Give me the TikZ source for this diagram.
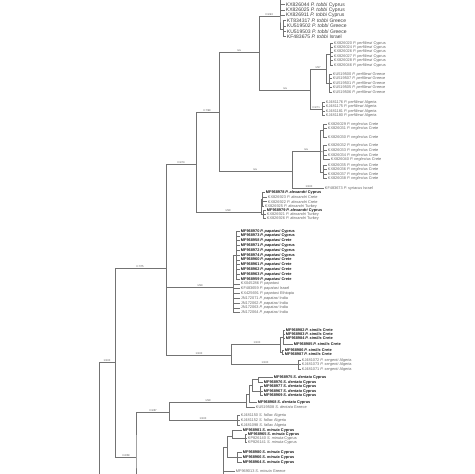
\documentclass[tikz,border=0pt]{standalone}
\usepackage{fontspec}
\setmainfont{Liberation Sans}
\begin{document}
\begin{tikzpicture}[
    x=0.03cm, y=-0.03cm,
    br/.style={draw=black!55, line width=0.4pt},
    leaf/.style={anchor=west, inner sep=0.6pt, font=\fontsize{3.3}{3.8}\selectfont, text=black!60},
    bigleaf/.style={leaf, font=\fontsize{4.3}{5}\selectfont, text=black!75},
    own/.style={leaf, font=\fontsize{3.3}{3.8}\selectfont\bfseries, text=black!90},
    bs/.style={anchor=south, inner sep=0.4pt, font=\fontsize{2.3}{2.7}\selectfont, text=black!65}
]
\useasboundingbox (0,0) rectangle (474,474);
\clip (0,0) rectangle (474,474);
\fill[white] (0,0) rectangle (474,474);

% internal nodes of the tree
\coordinate (root) at (99,362);
\coordinate (rootend) at (99,480);
\coordinate (all) at (115,362);
\coordinate (phleb) at (166,268);
\coordinate (sergent) at (136,457);
\coordinate (sergentend) at (136,480);
\coordinate (larr) at (196,164);
\coordinate (larrA) at (219,112);
\coordinate (tobper) at (259,52);
\coordinate (tob) at (280,16);
\coordinate (tobtop) at (280,-5);
\coordinate (tobGR) at (283,29);
\coordinate (perf) at (310,90);
\coordinate (perfA) at (326,69);
\coordinate (perfCY) at (330,54);
\coordinate (perfGR) at (329,83);
\coordinate (perfAL) at (322,109);
\coordinate (negsyr) at (292,171);
\coordinate (neg) at (320,151);
\coordinate (negA) at (323,130);
\coordinate (negB) at (323,152);
\coordinate (negC) at (323,172);
\coordinate (alex) at (261,212);
\coordinate (alexA) at (262,199);
\coordinate (alexB) at (263,214);
\coordinate (pap) at (233,287);
\coordinate (papA) at (236,255);
\coordinate (simser) at (231,355);
\coordinate (sim) at (280,344.5);
\coordinate (simA) at (283,337);
\coordinate (simB) at (282,352);
\coordinate (ser) at (298,364.5);
\coordinate (sd) at (169,412);
\coordinate (dent) at (246,402);
\coordinate (dentX) at (249,394);
\coordinate (dentY) at (252,385);
\coordinate (dentP) at (258,379.5);
\coordinate (dentQ) at (260,391);
\coordinate (fal) at (237,420);
\coordinate (min0) at (223,447);
\coordinate (min0end) at (223,480);
\coordinate (min1) at (227,447);
\coordinate (min2) at (232,436);
\coordinate (min2b) at (245,438);
\coordinate (min3) at (237,457);

% P. tobbi
\node[bigleaf] (t1) at (285,4.7) {KX826044 \textit{P. tobbi} Cyprus};
\node[bigleaf] (t2) at (285,10) {KX826025 \textit{P. tobbi} Cyprus};
\node[bigleaf] (t3) at (285,15.3) {KX826911 \textit{P. tobbi} Cyprus};
\node[bigleaf] (t4) at (286,20.7) {KT834317 \textit{P. tobbi} Greece};
\node[bigleaf] (t5) at (286,26) {KU519502 \textit{P. tobbi} Greece};
\node[bigleaf] (t6) at (286,31.3) {KU519503 \textit{P. tobbi} Greece};
\node[bigleaf] (t7) at (286,36.7) {KF483675 \textit{P. tobbi} Israel};

% P. perfiliewi
\node[leaf] (pc1) at (333,43) {KX826020 \textit{P. perfiliewi} Cyprus};
\node[leaf] (pc2) at (333,47.4) {KX826024 \textit{P. perfiliewi} Cyprus};
\node[leaf] (pc3) at (333,51.8) {KX826026 \textit{P. perfiliewi} Cyprus};
\node[leaf] (pc4) at (333,56.2) {KX826027 \textit{P. perfiliewi} Cyprus};
\node[leaf] (pc5) at (333,60.6) {KX826028 \textit{P. perfiliewi} Cyprus};
\node[leaf] (pc6) at (333,65) {KX826046 \textit{P. perfiliewi} Cyprus};
\node[leaf] (pg1) at (332,74) {KU519500 \textit{P. perfiliewi} Greece};
\node[leaf] (pg2) at (332,78.5) {KU519507 \textit{P. perfiliewi} Greece};
\node[leaf] (pg3) at (332,83) {KU519501 \textit{P. perfiliewi} Greece};
\node[leaf] (pg4) at (332,87.5) {KU519505 \textit{P. perfiliewi} Greece};
\node[leaf] (pg5) at (332,92) {KU519506 \textit{P. perfiliewi} Greece};
\node[leaf] (pa1) at (325,102) {KJ481176 \textit{P. perfiliewi} Algeria};
\node[leaf] (pa2) at (325,106.5) {KJ481175 \textit{P. perfiliewi} Algeria};
\node[leaf] (pa3) at (325,111) {KJ481181 \textit{P. perfiliewi} Algeria};
\node[leaf] (pa4) at (325,115.5) {KJ481180 \textit{P. perfiliewi} Algeria};

% P. neglectus, P. syriacus
\node[leaf] (ng1) at (327,124) {KX826029 \textit{P. neglectus} Crete};
\node[leaf] (ng2) at (327,128.5) {KX826031 \textit{P. neglectus} Crete};
\node[leaf] (ng3) at (327,137) {KX826030 \textit{P. neglectus} Crete};
\node[leaf] (ng4) at (327,145) {KX826032 \textit{P. neglectus} Crete};
\node[leaf] (ng5) at (327,150) {KX826033 \textit{P. neglectus} Crete};
\node[leaf] (ng6) at (327,155) {KX826034 \textit{P. neglectus} Crete};
\node[leaf] (ng7) at (330,159.5) {KX826040 \textit{P. neglectus} Crete};
\node[leaf] (ng8) at (327,165) {KX826035 \textit{P. neglectus} Crete};
\node[leaf] (ng9) at (327,169.5) {KX826036 \textit{P. neglectus} Crete};
\node[leaf] (ng10) at (327,174) {KX826037 \textit{P. neglectus} Crete};
\node[leaf] (ng11) at (327,178.5) {KX826038 \textit{P. neglectus} Crete};
\node[leaf] (sy1) at (324,188) {KF483673 \textit{P. syriacus} Israel};

% P. alexandri
\node[own] (ax1) at (265,192.7) {MF968978 \textit{P. alexandri} Cyprus};
\node[leaf] (ax2) at (267,197.3) {KX826923 \textit{P. alexandri} Crete};
\node[leaf] (ax3) at (267,201.7) {KX826922 \textit{P. alexandri} Crete};
\node[leaf] (ax4) at (264,206) {KX826925 \textit{P. alexandri} Turkey};
\node[own] (ax5) at (266,210) {MF968979 \textit{P. alexandri} Cyprus};
\node[leaf] (ax6) at (266,214.3) {KX826921 \textit{P. alexandri} Turkey};
\node[leaf] (ax7) at (266,218.3) {KX826926 \textit{P. alexandri} Turkey};

% P. papatasi
\node[own] (pp1) at (240,231) {MF968970 \textit{P. papatasi} Cyprus};
\node[own] (pp2) at (240,235.8) {MF968973 \textit{P. papatasi} Cyprus};
\node[own] (pp3) at (240,240.6) {MF968958 \textit{P. papatasi} Crete};
\node[own] (pp4) at (240,245.4) {MF968971 \textit{P. papatasi} Cyprus};
\node[own] (pp5) at (240,250.2) {MF968972 \textit{P. papatasi} Cyprus};
\node[own] (pp6) at (240,255) {MF968974 \textit{P. papatasi} Cyprus};
\node[own] (pp7) at (240,259.8) {MF968960 \textit{P. papatasi} Crete};
\node[own] (pp8) at (240,264.6) {MF968961 \textit{P. papatasi} Crete};
\node[own] (pp9) at (240,269.4) {MF968962 \textit{P. papatasi} Crete};
\node[own] (pp10) at (240,274.2) {MF968963 \textit{P. papatasi} Crete};
\node[own] (pp11) at (240,279) {MF968959 \textit{P. papatasi} Crete};
\node[leaf] (pp12) at (240,283.8) {KX045286 \textit{P. papatasi}};
\node[leaf] (pp13) at (240,288.6) {KF483659 \textit{P. papatasi} Israel};
\node[leaf] (pp14) at (240,293.4) {KX425691 \textit{P. papatasi} Ethiopia};
\node[leaf] (pp15) at (240,298.2) {JN172071 \textit{P. papatasi} India};
\node[leaf] (pp16) at (240,303) {JN172062 \textit{P. papatasi} India};
\node[leaf] (pp17) at (240,307.8) {JN172063 \textit{P. papatasi} India};
\node[leaf] (pp18) at (240,312.6) {JN172064 \textit{P. papatasi} India};

% P. similis, P. sergenti
\node[own] (si1) at (285,330) {MF968982 \textit{P. similis} Crete};
\node[own] (si2) at (285,334) {MF968983 \textit{P. similis} Crete};
\node[own] (si3) at (285,338) {MF968984 \textit{P. similis} Crete};
\node[own] (si4) at (293,344) {MF968985 \textit{P. similis} Crete};
\node[own] (si5) at (284,350) {MF968986 \textit{P. similis} Crete};
\node[own] (si6) at (284,354) {MF968987 \textit{P. similis} Crete};
\node[leaf] (se1) at (301,360) {KJ481072 \textit{P. sergenti} Algeria};
\node[leaf] (se2) at (301,364.5) {KJ481073 \textit{P. sergenti} Algeria};
\node[leaf] (se3) at (301,369) {KJ481071 \textit{P. sergenti} Algeria};

% S. dentata, S. fallax, S. minuta
\node[own] (de1) at (273,377) {MF968975 \textit{S. dentata} Cyprus};
\node[own] (de2) at (263,382) {MF968976 \textit{S. dentata} Cyprus};
\node[own] (de3) at (263,386.5) {MF968977 \textit{S. dentata} Cyprus};
\node[own] (de4) at (263,391) {MF968967 \textit{S. dentata} Cyprus};
\node[own] (de5) at (263,395.5) {MF968969 \textit{S. dentata} Cyprus};
\node[own] (de6) at (257,402.5) {MF968968 \textit{S. dentata} Cyprus};
\node[leaf] (de7) at (255,407) {KU519508 \textit{S. dentata} Greece};
\node[leaf] (fa1) at (240,415) {KJ481150 \textit{S. fallax} Algeria};
\node[leaf] (fa2) at (240,420) {KJ481152 \textit{S. fallax} Algeria};
\node[leaf] (fa3) at (240,425) {KJ481098 \textit{S. fallax} Algeria};
\node[own] (mi1) at (242,430) {MF968981 \textit{S. minuta} Cyprus};
\node[own] (mi2) at (247,434) {MF968965 \textit{S. minuta} Cyprus};
\node[leaf] (mi3) at (247,438) {KP826140 \textit{S. minuta} Cyprus};
\node[leaf] (mi4) at (247,442) {KP826141 \textit{S. minuta} Cyprus};
\node[own] (mi5) at (242,452) {MF968980 \textit{S. minuta} Cyprus};
\node[own] (mi6) at (242,457) {MF968966 \textit{S. minuta} Cyprus};
\node[own] (mi7) at (242,462) {MF968964 \textit{S. minuta} Cyprus};
\node[leaf] (mi8) at (235,471) {MF969013 \textit{S. minuta} Greece};

% branches
\draw[br] (rootend) -- (root) -- (all);
\draw[br] (all) |- (phleb);
\draw[br] (all) |- (sergent);
\draw[br] (sergentend) -- (sergent) |- (sd);
\draw[br] (phleb) |- (larr);
\draw[br] (phleb) |- (pap);
\draw[br] (phleb) |- (simser);
\draw[br] (larr) |- (larrA);
\draw[br] (larr) |- (alex);
\draw[br] (larrA) |- (tobper);
\draw[br] (larrA) |- (negsyr);
\draw[br] (tobper) |- (tob);
\draw[br] (tobper) |- (perf);
\draw[br] (tobtop) -- (tob) |- (tobGR);
\draw[br] (tob) |- (t1.west);
\draw[br] (tob) |- (t2.west);
\draw[br] (tob) |- (t3.west);
\draw[br] (tobGR) |- (t4.west);
\draw[br] (tobGR) |- (t5.west);
\draw[br] (tobGR) |- (t6.west);
\draw[br] (tobGR) |- (t7.west);
\draw[br] (perf) |- (perfA);
\draw[br] (perf) |- (perfAL);
\draw[br] (perfA) |- (perfCY);
\draw[br] (perfA) |- (perfGR);
\draw[br] (perfCY) |- (pc1.west);
\draw[br] (perfCY) |- (pc2.west);
\draw[br] (perfCY) |- (pc3.west);
\draw[br] (perfCY) |- (pc4.west);
\draw[br] (perfCY) |- (pc5.west);
\draw[br] (perfCY) |- (pc6.west);
\draw[br] (perfGR) |- (pg1.west);
\draw[br] (perfGR) |- (pg2.west);
\draw[br] (perfGR) |- (pg3.west);
\draw[br] (perfGR) |- (pg4.west);
\draw[br] (perfGR) |- (pg5.west);
\draw[br] (perfAL) |- (pa1.west);
\draw[br] (perfAL) |- (pa2.west);
\draw[br] (perfAL) |- (pa3.west);
\draw[br] (perfAL) |- (pa4.west);
\draw[br] (negsyr) |- (neg);
\draw[br] (negsyr) |- (sy1.west);
\draw[br] (neg) |- (negA);
\draw[br] (neg) -- (negB);
\draw[br] (neg) |- (negC);
\draw[br] (negA) |- (ng1.west);
\draw[br] (negA) |- (ng2.west);
\draw[br] (negA) |- (ng3.west);
\draw[br] (negB) |- (ng4.west);
\draw[br] (negB) |- (ng5.west);
\draw[br] (negB) |- (ng6.west);
\draw[br] (negB) |- (ng7.west);
\draw[br] (negC) |- (ng8.west);
\draw[br] (negC) |- (ng9.west);
\draw[br] (negC) |- (ng10.west);
\draw[br] (negC) |- (ng11.west);
\draw[br] (alex) |- (alexA);
\draw[br] (alex) |- (alexB);
\draw[br] (alexA) |- (ax1.west);
\draw[br] (alexA) |- (ax2.west);
\draw[br] (alexA) |- (ax3.west);
\draw[br] (alexA) |- (ax4.west);
\draw[br] (alexB) |- (ax5.west);
\draw[br] (alexB) |- (ax6.west);
\draw[br] (alexB) |- (ax7.west);
\draw[br] (pap) |- (papA);
\draw[br] (papA) |- (pp1.west);
\draw[br] (papA) |- (pp2.west);
\draw[br] (papA) |- (pp3.west);
\draw[br] (papA) |- (pp4.west);
\draw[br] (papA) |- (pp5.west);
\draw[br] (papA) |- (pp6.west);
\draw[br] (papA) |- (pp7.west);
\draw[br] (papA) |- (pp8.west);
\draw[br] (papA) |- (pp9.west);
\draw[br] (papA) |- (pp10.west);
\draw[br] (papA) |- (pp11.west);
\draw[br] (pap) |- (pp12.west);
\draw[br] (pap) |- (pp13.west);
\draw[br] (pap) |- (pp14.west);
\draw[br] (pap) |- (pp15.west);
\draw[br] (pap) |- (pp16.west);
\draw[br] (pap) |- (pp17.west);
\draw[br] (pap) |- (pp18.west);
\draw[br] (simser) |- (sim);
\draw[br] (simser) |- (ser);
\draw[br] (sim) |- (simA);
\draw[br] (sim) |- (simB);
\draw[br] (simA) |- (si1.west);
\draw[br] (simA) |- (si2.west);
\draw[br] (simA) |- (si3.west);
\draw[br] (simA) |- (si4.west);
\draw[br] (simB) |- (si5.west);
\draw[br] (simB) |- (si6.west);
\draw[br] (ser) |- (se1.west);
\draw[br] (ser) |- (se2.west);
\draw[br] (ser) |- (se3.west);
\draw[br] (sd) |- (dent);
\draw[br] (sd) |- (fal);
\draw[br] (dent) |- (dentX);
\draw[br] (dent) |- (de7.west);
\draw[br] (dentX) |- (dentY);
\draw[br] (dentX) |- (de6.west);
\draw[br] (dentY) |- (dentP);
\draw[br] (dentY) |- (dentQ);
\draw[br] (dentP) |- (de1.west);
\draw[br] (dentP) |- (de2.west);
\draw[br] (dentQ) |- (de3.west);
\draw[br] (dentQ) |- (de4.west);
\draw[br] (dentQ) |- (de5.west);
\draw[br] (fal) |- (fa1.west);
\draw[br] (fal) |- (fa2.west);
\draw[br] (fal) |- (fa3.west);
\draw[br] (min0end) -- (min0) -- (min1);
\draw[br] (min0) |- (mi8.west);
\draw[br] (min1) |- (min2);
\draw[br] (min1) |- (min3);
\draw[br] (min2) |- (mi1.west);
\draw[br] (min2) |- (min2b);
\draw[br] (min2b) |- (mi2.west);
\draw[br] (min2b) |- (mi3.west);
\draw[br] (min2b) |- (mi4.west);
\draw[br] (min3) |- (mi5.west);
\draw[br] (min3) |- (mi6.west);
\draw[br] (min3) |- (mi7.west);

% support values
\node[bs] (s1) at (269,16) {0.9/93};
\node[bs] (s2) at (239,52) {n/a};
\node[bs] (s3) at (285,90) {n/a};
\node[bs] (s4) at (318,69) {1/97};
\node[bs] (s5) at (316,109) {0.9/71};
\node[bs] (s6) at (207,112) {0.7/99};
\node[bs] (s7) at (181,164) {0.9/74};
\node[bs] (s8) at (255,171) {n/a};
\node[bs] (s9) at (306,151) {n/a};
\node[bs] (s10) at (309,188) {1/100};
\node[bs] (s11) at (228,212) {1/98};
\node[bs] (s12) at (200,287) {1/99};
\node[bs] (s13) at (199,355) {1/100};
\node[bs] (s14) at (257,344.5) {1/100};
\node[bs] (s15) at (265,364.5) {1/100};
\node[bs] (s16) at (140,268) {0.7/75};
\node[bs] (s17) at (107,362) {1/100};
\node[bs] (s18) at (126,457) {0.8/58};
\node[bs] (s19) at (153,412) {0.9/67};
\node[bs] (s20) at (208,402) {1/98};
\node[bs] (s21) at (203,420) {1/100};
\end{tikzpicture}
\end{document}
